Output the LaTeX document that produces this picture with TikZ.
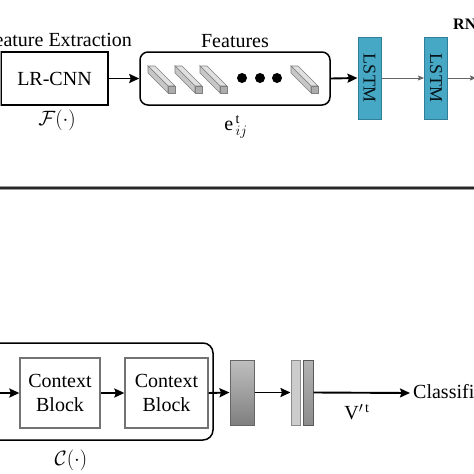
\documentclass[tikz,border=0pt]{standalone}
\usepackage{fontspec}
\setmainfont{Liberation Serif}
\usetikzlibrary{arrows.meta}
\definecolor{teal1}{HTML}{47A8C6}
\definecolor{teal2}{HTML}{2F7F9A}
\begin{document}
\begin{tikzpicture}[x=1pt,y=-1pt,
  lbl/.style={font=\fontsize{20}{21}\selectfont, inner sep=0pt},
  bigarrow/.style={line width=1.9pt, -{Stealth[length=10pt,width=9pt,inset=1.5pt]}},
  thinarrow/.style={line width=0.8pt, draw=black!60, -{Stealth[length=6pt,width=5pt,inset=1pt]}},
  blackbox/.style={draw=black, line width=1.5pt, inner sep=0pt},
  lstmbox/.style={draw=teal2, fill=teal1, line width=1pt, minimum width=23pt, minimum height=82pt, inner sep=0pt},
  ctxbox/.style={draw=black!55, line width=1.3pt, minimum height=70pt, inner sep=0pt, align=center, font=\fontsize{20}{24}\selectfont},
  bar/.pic={
    \filldraw[fill=black!12, draw=black!50, line width=0.7pt] (0,0) -- (7,0) -- (-13,-20) -- (-20,-20) -- cycle;
    \filldraw[fill=black!22, draw=black!50, line width=0.7pt] (0,0) -- (0,7) -- (-20,-13) -- (-20,-20) -- cycle;
    \filldraw[fill=black!32, draw=black!50, line width=0.7pt] (0,0) rectangle (7,7);
  }]
\useasboundingbox (0,0) rectangle (474,474);
\fill[white] (0,0) rectangle (474,474);

% ---------- top part ----------
\node[lbl, anchor=base east] (fe) at (132,46) {Feature Extraction};
\node[blackbox, minimum width=107pt, minimum height=53pt, lbl] (lr) at (54.5,78.5) {LR-CNN};
\draw[black!40, line width=1.5pt] (lr.north west) -- (lr.south west);
\node[lbl] (flab) at (57,120) {$\mathcal{F}(\cdot)$};

\node[lbl, anchor=base] (ftxt) at (235,47) {Features};
\node[blackbox, rounded corners=8pt, minimum width=190pt, minimum height=53pt] (feat) at (235,78.5) {};
\pic at (168,86) {bar};
\pic at (195,86) {bar};
\pic at (220,86) {bar};
\pic at (311,86) {bar};
\fill (242,78) circle (5pt) (260,78) circle (5pt) (277,78) circle (5pt);
\node[lbl] (elab) at (236,127) {$\mathrm{e}^{\,\mathrm{t}}_{\,ij}$};

\node[lstmbox] (l1) at (369.5,78) {};
\node[lstmbox] (l2) at (436,78) {};
\node[rotate=-90, font=\fontsize{18}{19}\selectfont, text=black!85!teal2, inner sep=0pt] (t1) at (l1.center) {LSTM};
\node[rotate=-90, font=\fontsize{18}{19}\selectfont, text=black!85!teal2, inner sep=0pt] (t2) at (l2.center) {LSTM};
\node[font=\fontsize{16}{17}\selectfont\bfseries, anchor=base west, inner sep=0pt] (rnn) at (453,29) {RNN};
\coordinate (out1) at (476,78);

\draw[bigarrow] (lr.east) -- (feat.west);
\draw[bigarrow] (feat.east) -- (l1.west);
\draw[thinarrow] (l1.east) -- (l2.west);
\draw[thinarrow] (l2.east) -- (out1);

% ---------- separator ----------
\draw[black!40, line width=4pt] (-5,188) -- (480,188);
\draw[black!85, line width=2.4pt] (-5,188) -- (480,188);

% ---------- bottom part ----------
\draw[black, line width=1.5pt, rounded corners=10pt] (-20,343) rectangle (213,440);
\node[lbl] (clab) at (71,460) {$\mathcal{C}(\cdot)$};
\node[ctxbox, minimum width=80pt] (cb1) at (60,393) {Context\\Block};
\node[ctxbox, minimum width=83pt] (cb2) at (166.5,393) {Context\\Block};
\coordinate (in2) at (-20,393);
\node[draw=black!60, line width=1pt, top color=black!25, bottom color=black!50, minimum width=24pt, minimum height=65pt, inner sep=0pt] (gb) at (242,392.5) {};
\node[draw=black!45, line width=1pt, fill=black!20, minimum width=9pt, minimum height=65pt, inner sep=0pt] (ba) at (295.5,392.5) {};
\node[draw=black!65, line width=1pt, top color=black!30, bottom color=black!45, minimum width=10pt, minimum height=65pt, inner sep=0pt] (bb) at (308,392.5) {};
\coordinate (out2) at (410,393);
\node[lbl, anchor=west] (cls) at (413,392) {Classification};
\node[lbl] (vlab) at (357,412) {$\mathrm{V}'^{\,\mathrm{t}}$};

\draw[bigarrow] (in2) -- (cb1.west);
\draw[bigarrow] (cb1.east) -- (cb2.west);
\draw[bigarrow] (cb2.east) -- (gb.west);
\draw[bigarrow] (gb.east) -- (ba.west);
\draw[bigarrow] (bb.east) -- (out2);
\end{tikzpicture}
\end{document}
